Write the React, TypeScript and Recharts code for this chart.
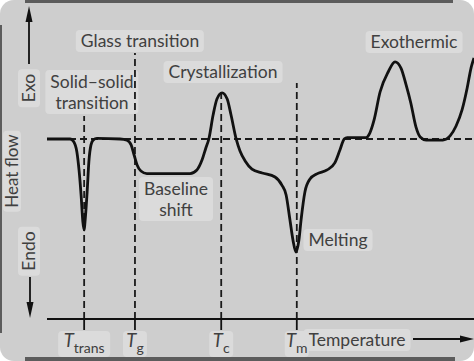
import { LineChart, Line, XAxis, YAxis, ReferenceLine } from "recharts"

// DSC curve, temperature in arbitrary units 0..100, heat flow relative to baseline
const temperature = [
  0, 5.4, 6.3, 7.0, 7.5, 8.0, 8.4, 8.7, 8.9, 9.4, 9.8, 10.3, 10.8, 11.7, 17.1, 18.7, 19.7, 20.4, 21.1, 22.0,
  23.4, 33.5, 35.1, 36.3, 37.2, 37.9, 38.9, 39.8, 41.0, 42.2, 43.1, 44.3, 45.2, 46.4, 48.0, 50.4, 53.4, 55.0, 56.0, 56.9,
  57.6, 58.3, 59.0, 59.5, 60.4, 61.6, 63.2, 65.6, 67.4, 68.6, 69.6, 70.3, 74.7, 75.6, 76.6, 78.0, 79.9, 81.5, 82.9, 84.1,
  85.2, 86.4, 87.4, 88.8, 92.7, 94.4, 95.8, 97.2, 98.4, 99.3, 100,
]
const heatFlow = [
  0, 0, -1.7, -7.2, -17.2, -31.7, -46.1, -50.6, -46.1, -29.4, -12.8, -3.3, -0.6, 0.3, 0, -0.6, -3.3, -8.9, -14.4, -17.8,
  -19.2, -19.2, -17.2, -11.7, -5, 0, 13.3, 22.2, 25.6, 22.2, 13.3, 0, -6.7, -12.2, -16.7, -18.9, -21.1, -25.6, -31.1, -45,
  -56.1, -62.8, -56.1, -45, -29.4, -22.2, -19.4, -17.2, -13.3, -6.1, 0, 0.8, 0.8, 3.3, 10.6, 26.1, 37.2, 42.8, 39.4, 30,
  20, 6.7, 1.1, -0.6, -0.6, 1.7, 7.2, 16.1, 28.3, 39.4, 45,
]

const transitionTemps = [8.7, 20.6, 40.8, 58.5]
const transitionSubs = ["trans", "g", "c", "m"]
const guideTops = [12.8, 47.8, 26.7, 31.1]

const data = temperature.map((t, i) => ({ t, h: heatFlow[i] }))

const BG = "#cecece"
const BOX = "#dbdbdb"
const TXT = "#404040"
const INK = "#111"

const labelStyle = (x: number, y: number, rot = false): React.CSSProperties => ({
  position: "absolute",
  left: x,
  top: y,
  transform: rot ? "translate(-50%,-50%) rotate(-90deg)" : "translate(-50%,-50%)",
  background: BOX,
  color: TXT,
  borderRadius: 4,
  padding: "1px 5px",
  fontFamily: "Lato, sans-serif",
  fontSize: 17.5,
  lineHeight: "20px",
  textAlign: "center",
  whiteSpace: "nowrap",
})

function TempTick(props: any) {
  const { x, y, payload } = props
  const idx = transitionTemps.indexOf(payload.value)
  const sub = transitionSubs[idx] ?? ""
  const w = 17 + sub.length * 7
  return (
    <g>
      <rect x={x - w / 2} y={y - 1} width={w} height={26} rx={4} fill={BOX} />
      <text x={x} y={y + 15} textAnchor="middle" fill={TXT} fontFamily="Lato, sans-serif" fontSize={18.5}>
        <tspan fontStyle="italic">T</tspan>
        <tspan fontSize={14} dy={6}>{sub}</tspan>
      </text>
    </g>
  )
}

export default function App() {
  return (
    <div style={{ position: "absolute", left: 0, top: 0, width: 474, height: 361, background: "#fff", overflow: "hidden" }}>
      <div style={{ position: "absolute", inset: 0, background: BG, borderRadius: 14 }} />
      <div style={{ position: "absolute", left: 25, top: 0, width: 428, height: 3, background: "#5c5c5c" }} />
      <div style={{ position: "absolute", left: 25, top: 357, width: 430, height: 4, background: "#5c5c5c" }} />
      <div style={{ position: "absolute", left: 0, top: 25, width: 2, height: 308, background: "#5c5c5c" }} />

      <div style={labelStyle(140, 41)}>Glass transition</div>
      <div style={{ ...labelStyle(92, 92), lineHeight: "21px" }}>Solid–solid<br />transition</div>
      <div style={labelStyle(223, 72)}>Crystallization</div>
      <div style={labelStyle(414, 42)}>Exothermic</div>
      <div style={{ ...labelStyle(176, 199), lineHeight: "21px" }}>Baseline<br />shift</div>
      <div style={labelStyle(338, 240)}>Melting</div>
      <div style={labelStyle(357, 340)}>Temperature</div>
      <div style={labelStyle(29, 88, true)}>Exo</div>
      <div style={{ ...labelStyle(12, 171, true), padding: "0 4px", lineHeight: "18px", fontSize: 17 }}>Heat flow</div>
      <div style={labelStyle(29, 251, true)}>Endo</div>

      <svg width={474} height={361} style={{ position: "absolute", left: 0, top: 0 }}>
        <line x1={29} y1={64} x2={29} y2={18} stroke={INK} strokeWidth={1.8} />
        <polygon points="29,6 25.5,22 32.5,22" fill={INK} />
        <line x1={30} y1={277} x2={30} y2={306} stroke={INK} strokeWidth={1.8} />
        <polygon points="30,318 26.5,302 33.5,302" fill={INK} />
        <line x1={413} y1={339} x2={462} y2={339} stroke={INK} strokeWidth={1.8} />
        <polygon points="474,339 460,335.5 460,342.5" fill={INK} />
      </svg>

      <div style={{ position: "absolute", left: 0, top: 0 }}>
        <LineChart width={474} height={361} data={data} margin={{ top: 0, right: 0, bottom: 0, left: 47 }}>
          <XAxis
            dataKey="t"
            type="number"
            domain={[0, 100]}
            ticks={transitionTemps}
            tickSize={11}
            height={42}
            axisLine={{ stroke: INK, strokeWidth: 2 }}
            tickLine={{ stroke: INK, strokeWidth: 1.8 }}
            tick={<TempTick />}
            interval={0}
          />
          <YAxis
            type="number"
            domain={[-100, 77.2]}
            width={0}
            tick={false}
            tickLine={false}
            axisLine={{ stroke: INK, strokeWidth: 2 }}
          />
          <ReferenceLine y={0} stroke="#1a1a1a" strokeWidth={1.8} strokeDasharray="7 4" />
          {transitionTemps.map((t, i) => (
            <ReferenceLine
              key={t}
              segment={[{ x: t, y: -100 }, { x: t, y: guideTops[i] }]}
              stroke="#1a1a1a"
              strokeWidth={1.8}
              strokeDasharray="7 4"
            />
          ))}
          <Line
            type="monotone"
            dataKey="h"
            stroke={INK}
            strokeWidth={2.8}
            dot={false}
            isAnimationActive={false}
          />
        </LineChart>
      </div>
    </div>
  )
}
